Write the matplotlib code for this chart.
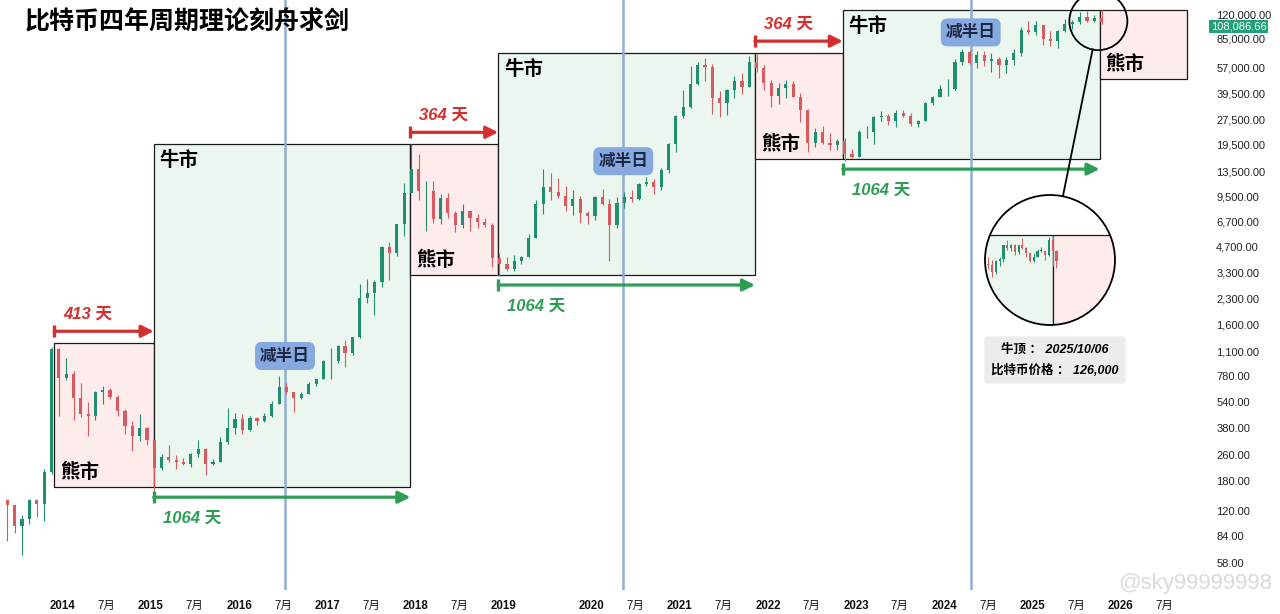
import numpy as np
import pandas as pd
import matplotlib
matplotlib.use('Agg')
import matplotlib.pyplot as plt
import matplotlib.dates as mdates
from matplotlib.patches import Rectangle, Circle
from matplotlib.transforms import offset_copy
from matplotlib.ticker import NullLocator

plt.rcParams['font.family'] = ['Liberation Sans', 'Noto Sans CJK SC', 'DejaVu Sans']

# ---- monthly BTC/USD candles, May 2013 .. Oct 2025 (open = previous close) ----
first_open = 139
month_high = [
    140, 130, 112, 140, 140, 214, 1163, 1156,                                      # 2013
    1000, 840, 710, 545, 632, 680, 660, 600, 495, 415, 460, 385,                    # 2014
    320, 265, 300, 260, 248, 268, 318, 286, 247, 335, 502, 465,                     # 2015
    462, 445, 440, 468, 550, 780, 705, 625, 625, 720, 750, 975,                     # 2016
    1150, 1200, 1290, 1350, 2790, 2990, 2950, 4750, 5000, 6470, 11400, 19700,       # 2017
    17200, 11800, 11700, 9750, 9990, 7750, 8500, 7770, 7410, 7000, 6590, 4310,      # 2018
    4070, 4210, 4150, 5630, 9070, 13880, 13200, 12330, 10930, 10370, 9510, 7750,    # 2019
    9580, 10500, 9180, 9480, 10080, 10380, 11440, 12480, 12070, 14100, 19920, 29300,  # 2020
    41950, 58350, 61780, 64900, 59600, 41300, 42400, 50500, 52920, 67000, 69000, 59100,  # 2021
    47990, 45800, 48200, 47450, 40000, 31900, 24650, 25200, 22800, 21000, 21450, 18400,  # 2022
    23950, 25250, 29200, 31000, 29850, 31430, 31800, 30250, 27480, 35200, 38450, 44700,  # 2023
    48970, 64000, 73800, 72800, 71950, 71950, 70000, 65600, 66500, 73600, 99800, 108300,  # 2024
    109600, 102500, 95000, 95750, 111900, 110500, 123200, 124450, 117900, 126200,   # 2025
]
month_low = [
    79, 88, 65, 100, 109, 103, 199, 450,
    740, 420, 440, 340, 420, 525, 565, 445, 350, 275, 315, 300,
    152, 212, 236, 214, 227, 220, 252, 198, 226, 235, 303, 350,
    350, 365, 395, 411, 440, 525, 605, 470, 565, 605, 680, 745,
    750, 930, 890, 1040, 1330, 2150, 1830, 2700, 2970, 4160, 5500, 10700,
    9000, 5900, 6600, 6430, 7060, 5750, 6080, 5880, 6110, 6200, 3560, 3130,
    3350, 3370, 3720, 4080, 5320, 7450, 9070, 9330, 7710, 7300, 6530, 6430,
    6850, 8450, 3850, 6150, 8100, 8830, 8980, 10960, 9880, 10380, 13210, 17570,
    28130, 32300, 45000, 47000, 30000, 28800, 29300, 37330, 39600, 43300, 53250, 42000,
    32930, 34300, 37200, 37600, 26700, 17600, 18800, 19600, 18150, 18200, 15480, 16260,
    16500, 21400, 19570, 26950, 25800, 24800, 28860, 25160, 24900, 26950, 34100, 37600,
    38550, 41900, 59000, 59600, 56550, 58400, 53500, 49000, 52550, 58900, 66800, 90500,
    89250, 78200, 76600, 74450, 93400, 98200, 105100, 107250, 107250, 104000,
]
month_close = [
    129, 97, 106, 139, 132, 204, 1129, 754,
    803, 574, 458, 448, 628, 640, 586, 478, 387, 338, 378, 320,
    217, 254, 244, 236, 230, 263, 284, 230, 236, 313, 377, 430,
    368, 437, 416, 448, 531, 673, 624, 574, 608, 698, 745, 963,
    965, 1190, 1080, 1350, 2300, 2480, 2875, 4700, 4340, 6470, 10000, 13850,
    10200, 10300, 6930, 9240, 7490, 6390, 7730, 7030, 6630, 6370, 4040, 3690,
    3440, 3840, 4100, 5320, 8570, 10820, 10090, 9600, 8300, 9150, 7550, 7190,
    9350, 8540, 6420, 8630, 9450, 9140, 11350, 11650, 10780, 13800, 19700, 28950,
    33100, 45240, 58800, 57700, 37300, 35040, 41460, 47100, 43800, 61300, 57000, 46200,
    38480, 43160, 45540, 37640, 31800, 19930, 23300, 20050, 19420, 20500, 17170, 16540,
    23130, 23150, 28470, 29250, 27220, 30480, 29230, 25940, 26960, 34650, 37720, 42280,
    42580, 61200, 71300, 60650, 67500, 62700, 64600, 58970, 63300, 70200, 96400, 93400,
    102400, 84350, 82550, 94200, 104600, 107150, 115750, 108250, 114050, 108086.66,
]

# ---- weekly candles for the zoomed circle, May 26 .. Oct 13 2025 ----
week_first_open = 109000
week_high = [110700, 106800, 110600, 108900, 108500, 110600, 119500, 123200, 120200, 119800, 119400,
             124500, 117600, 113600, 113400, 116700, 117900, 115400, 125400, 126200, 116000]
week_low = [103100, 100400, 102700, 98200, 99600, 105100, 107500, 115700, 114700, 112000, 112600,
            116800, 110600, 107300, 107300, 110600, 114400, 108600, 111500, 104500, 103500]
week_close = [105700, 105600, 105500, 100900, 108400, 109200, 119100, 117300, 119400, 114200, 119300,
              117400, 113500, 108300, 111100, 115300, 115300, 112100, 123500, 115200, 108087]

# ---- cycle boxes ----
cycle_start = '2013-11-25'
cycle_days = [413, 1064, 364, 1064, 364, 1064, 364]
cycle_kind = ['bear', 'bull', 'bear', 'bull', 'bear', 'bull', 'bear']
box_low = [166, 166, 3180, 3180, 15950, 15950, 48500]
box_high = [1230, 19600, 19600, 69700, 69700, 126800, 126800]
top_price = 126000

halving_dates = ['2016-07-09', '2020-05-11', '2024-04-20']
halving_label_price = [1030, 15500, 93000]

price_ticks = [58, 84, 120, 180, 260, 380, 540, 780, 1100, 1600, 2300, 3300, 4700, 6700,
               9500, 13500, 19500, 27500, 39500, 57000, 85000, 120000]

UP, DOWN = '#1f8f6f', '#d65a5f'
PINK, MINT = '#fdeceb', '#ebf6ee'
RED, GREEN = '#d32f2f', '#2e9e57'
CJK = ['Noto Sans CJK SC', 'DejaVu Sans']
NUM = ['Liberation Sans', 'Noto Sans CJK SC', 'DejaVu Sans']

months = pd.date_range('2013-05-01', periods=len(month_close), freq='MS')
month_x = mdates.date2num(months + pd.Timedelta(days=14))
month_open = [first_open] + month_close[:-1]
weeks = pd.date_range('2025-05-26', periods=len(week_close), freq='W-MON')
week_x = mdates.date2num(weeks)
week_open = [week_first_open] + week_close[:-1]

edges = pd.Timestamp(cycle_start) + pd.to_timedelta(np.concatenate([[0], np.cumsum(cycle_days)]), unit='D')
ex = mdates.date2num(edges)


def candles(a, t, o, h, l, c, width, wick_lw):
    o, h, l, c = map(np.asarray, (o, h, l, c))
    col = np.where(c >= o, UP, DOWN)
    wick = a.vlines(t, l, h, colors=col, lw=wick_lw, zorder=3)
    bars = a.bar(t, np.maximum(np.abs(c - o), c * 0.004), bottom=np.minimum(o, c),
                 width=width, color=col, lw=0, zorder=4)
    return [wick] + list(bars)


def boxes(a):
    arts = []
    for i, kind in enumerate(cycle_kind):
        r = Rectangle((ex[i], box_low[i]), ex[i + 1] - ex[i], box_high[i] - box_low[i],
                      fc=PINK if kind == 'bear' else MINT, ec='#1a1a1a', lw=0.9, zorder=1)
        a.add_patch(r)
        arts.append(r)
    return arts


W, H = 1280, 614
fig = plt.figure(figsize=(W / 100, H / 100), dpi=100)
ax = fig.add_axes([0, 24 / H, 1205 / W, 590 / H])
ax.set_yscale('log')
ax.set_ylim(39.7, 146000)
ax.set_xlim(mdates.date2num(pd.Timestamp('2013-04-15')), mdates.date2num(pd.Timestamp('2026-12-17')))
for s in ax.spines.values():
    s.set_visible(False)

boxes(ax)
candles(ax, month_x, month_open, month_high, month_low, month_close, 13, 0.8)

for d, p in zip(halving_dates, halving_label_price):
    hx = mdates.date2num(pd.Timestamp(d))
    ax.axvline(hx, color='#8eaed4', lw=1.8, zorder=2)
    ax.text(hx, p, '减半日', ha='center', va='center', fontsize=12, fontweight='bold',
            family=CJK, color='#1c2742', zorder=6,
            bbox=dict(boxstyle='round,pad=0.3,rounding_size=0.4', fc='#86a9e0', ec='none'))

# market labels, arrows and day counts
for i, kind in enumerate(cycle_kind):
    if kind == 'bull':
        ax.annotate('牛市', xy=(ex[i], box_high[i]), xytext=(6, -16), textcoords='offset pixels',
                    ha='left', va='center', fontsize=14, fontweight='bold', family=CJK, zorder=6)
    else:
        ax.annotate('熊市', xy=(ex[i], box_low[i]), xytext=(6, 15), textcoords='offset pixels',
                    ha='left', va='center', fontsize=14, fontweight='bold', family=CJK, zorder=6)
    if i == len(cycle_kind) - 1:
        continue
    if kind == 'bear':
        yv, dy, ty, col = box_high[i], 12, 29, RED
    else:
        yv, dy, ty, col = box_low[i], -10, -31, GREEN
    tr = offset_copy(ax.transData, fig=fig, x=0, y=dy, units='dots')
    ax.annotate('', xy=(ex[i + 1], yv), xytext=(ex[i], yv), xycoords=tr, textcoords=tr,
                arrowprops=dict(arrowstyle='-|>,head_length=0.6,head_width=0.3', color=col,
                                lw=2.3, shrinkA=0, shrinkB=0, mutation_scale=12), zorder=6)
    ax.plot([ex[i]], [yv], marker='|', ms=9, mew=2.4, color=col, transform=tr, zorder=6)
    ax.annotate(f'{cycle_days[i]} 天', xy=(ex[i], yv), xytext=(9, ty), textcoords='offset pixels',
                ha='left', va='center', fontsize=12, fontweight='bold', style='italic',
                family=NUM, color=col, zorder=6)

# axes ticks
years = pd.date_range('2014-01-01', '2026-01-01', freq='YS')
julys = [pd.Timestamp(f'{y}-07-01') for y in range(2014, 2027) if y != 2019]
ax.set_xticks(mdates.date2num(years), [str(y.year) for y in years], fontweight='bold')
ax.set_xticks(mdates.date2num(julys), ['7月'] * len(julys), minor=True)
ax.tick_params(axis='x', which='both', length=0, pad=7, labelsize=8.3, labelcolor='#111')
ax.yaxis.tick_right()
ax.set_yticks(price_ticks, [f'{v:,.2f}' for v in price_ticks])
ax.yaxis.set_minor_locator(NullLocator())
ax.tick_params(axis='y', length=0, pad=8, labelsize=8, labelcolor='#222')

ax.annotate(f'{month_close[-1]:,.2f}', xy=(1, month_close[-1]), xycoords=('axes fraction', 'data'),
            xytext=(6, -5), textcoords='offset pixels', ha='left', va='center', fontsize=8,
            color='white', annotation_clip=False, zorder=10,
            bbox=dict(boxstyle='square,pad=0.15', fc='#22a07a', ec='none'))

fig.text(25 / W, 1 - 22 / H, '比特币四年周期理论刻舟求剑', fontsize=18, fontweight='heavy',
         family=CJK, ha='left', va='center')

# overlay in pixel coordinates for the magnifier
ov = fig.add_axes([0, 0, 1, 1])
ov.set_xlim(0, W)
ov.set_ylim(H, 0)
ov.axis('off')

fx, fy = ax.transData.transform((mdates.date2num(pd.Timestamp('2025-10-01')), 108800))
r1, r2 = 29, 65
c1 = np.array([fx, H - fy])
c2 = np.array([1050, 260])
u = (c2 - c1) / np.hypot(*(c2 - c1))
ov.add_patch(Circle(c1, r1, fill=False, ec='black', lw=1.3))
p0, p1 = c1 + r1 * u, c2 - r2 * u
ov.plot([p0[0], p1[0]], [p0[1], p1[1]], color='black', lw=1.3)

top_day = edges[6].strftime('%Y/%m/%d')
ov.text(1055, 360, f'牛顶 ： {top_day}\n比特币价格 ： {top_price:,}', ha='center', va='center',
        fontsize=9, fontweight='bold', style='italic', family=NUM, linespacing=1.8,
        bbox=dict(boxstyle='round,pad=0.55,rounding_size=0.3', fc='#ececec', ec='none'))
ov.text(1272, 583, '@sky99999998', ha='right', va='center', fontsize=16, color='#dadada')

ax_in = fig.add_axes([(c2[0] - r2) / W, (H - c2[1] - r2) / H, 2 * r2 / W, 2 * r2 / H])
ax_in.set_yscale('log')
inv = ax.transData.inverted()
xa, ya = inv.transform((fx - r1, fy - r1))
xb, yb = inv.transform((fx + r1, fy + r1))
ax_in.set_xlim(xa, xb)
ax_in.set_ylim(ya, yb)
ax_in.axis('off')
ax_in.add_patch(Circle((0.5, 0.5), 0.5, transform=ax_in.transAxes, fc='white', ec='none', zorder=0))
arts = boxes(ax_in)
arts += candles(ax_in, week_x, week_open, week_high, week_low, week_close, 4, 0.7)
clip = Circle((0.5, 0.5), 0.5, transform=ax_in.transAxes)
for a in arts:
    a.set_clip_path(clip)
ax_in.add_patch(Circle((0.5, 0.5), 0.5, transform=ax_in.transAxes, fill=False, ec='black',
                       lw=1.3, clip_on=False, zorder=10))

fig.savefig('out.png', dpi=100)
